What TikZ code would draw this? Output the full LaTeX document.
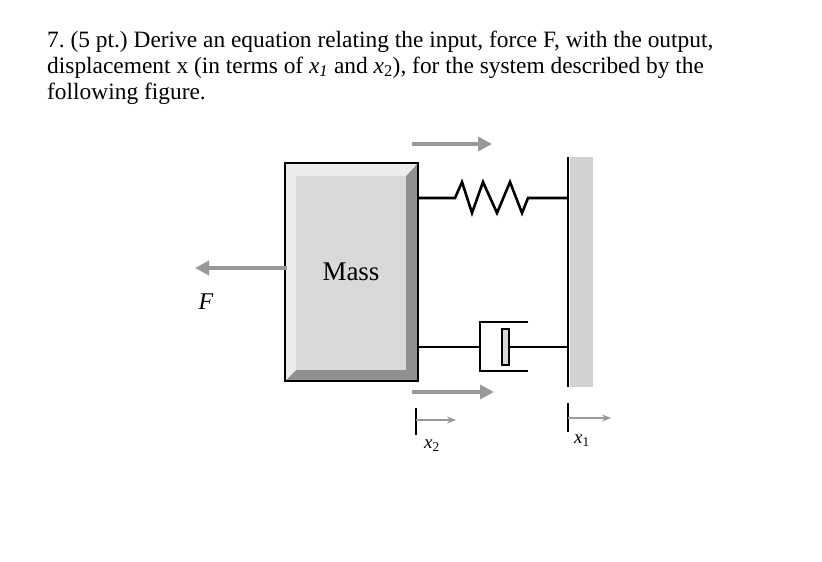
\documentclass[tikz,border=0pt]{standalone}
\usepackage{fontspec}
\setmainfont{Liberation Serif}
\usetikzlibrary{arrows.meta}
\frenchspacing
\begin{document}
\begin{tikzpicture}[x=1pt,y=-1pt,
  blk/.style={line width=2.6pt,black},
  garrow/.style={line width=4.5pt,gray!80,-{Triangle[length=14pt,width=14pt]}},
  marker/.style={line width=1.2pt,gray!80,-{Stealth[length=9pt,width=7pt]}},
  qtext/.style={anchor=base west,font=\fontsize{23.4}{26}\selectfont,inner sep=0}]
\useasboundingbox (0,0) rectangle (822,562);
\node[qtext] (q) at (47,47)
 {7. (5 pt.) Derive an equation relating the input, force F, with the output,};
\node[qtext] (q2) at (47,73)
 {displacement x (in terms of \textit{x}\textsubscript{\textit{1}} and \textit{x}\textsubscript{2}), for the system described by the};
\node[qtext] (q3) at (47,99) {following figure.};
% mass
\fill[gray!55!black!60] (285,163) rectangle (418,381);
\fill[gray!15] (285,163) -- (418,163) -- (406,176) -- (296,176) -- (296,370) -- (285,381) -- cycle;
\fill[gray!30] (296,176) rectangle (406,370);
\draw[line width=1.8pt] (285,163) rectangle (418,381);
\node[font=\fontsize{27}{27}\selectfont] (mass) at (351,272) {Mass};
% wall
\fill[gray!35] (570,157) rectangle (593,387);
\draw[blk] (568,157) -- (568,387);
% spring
\draw[blk,line join=miter] (418,198) -- (455,198) -- (462,182) -- (472,213) -- (483,182) -- (497,213) -- (510,182) -- (522,213) -- (528,198) -- (568,198);
% damper
\draw[blk] (418,347) -- (480,347);
\draw[blk] (528,322) -- (480,322) -- (480,371) -- (528,371);
\draw[line width=1.2pt,fill=gray!30] (502,329) rectangle (509,365);
\draw[blk] (509,347) -- (568,347);
% arrows
\draw[garrow] (412,144) -- (492,144);
\draw[garrow] (412,392) -- (494,392);
\draw[garrow] (287,268) -- (195,268);
\node[font=\fontsize{24}{24}\selectfont\itshape] (F) at (206,302) {F};
% markers
\draw[line width=1.2pt] (416,408) -- (416,435);
\draw[marker] (416,420) -- (456,420);
\node[font=\fontsize{19}{19}\selectfont] (x2) at (432,446) {\textit{x}\textsubscript{2}};
\draw[line width=1.2pt] (568,403) -- (568,432);
\draw[marker] (568,418) -- (611,418);
\node[font=\fontsize{19}{19}\selectfont] (x1) at (582,441) {\textit{x}\textsubscript{1}};
\end{tikzpicture}
\end{document}
